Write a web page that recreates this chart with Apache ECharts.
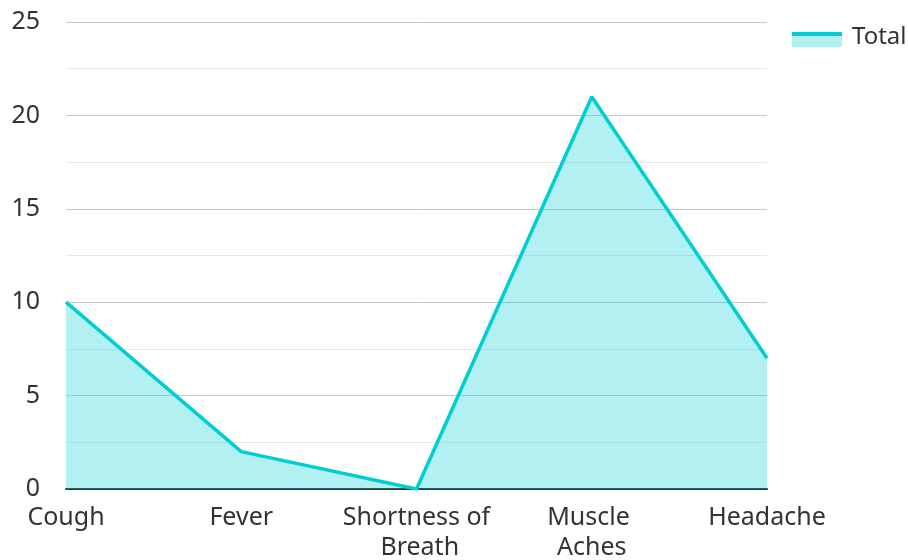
<!DOCTYPE html>
<html><head><meta charset="utf-8">
<script src="https://cdn.jsdelivr.net/npm/echarts@6/dist/echarts.min.js"></script>
<style>html,body{margin:0;padding:0;background:#fff}#c{width:908px;height:560px}</style>
</head><body><div id="c"></div>
<script>
const categories = ['Cough', 'Fever', 'Shortness of Breath', 'Muscle Aches', 'Headache'];
const totalValues = [10, 2, 0, 21, 7];
const seriesName = 'Total';

const FONT = '"Noto Sans", sans-serif';
const chart = echarts.init(document.getElementById('c'), null, {renderer: 'canvas'});
chart.setOption({
  animation: false,
  textStyle: {fontFamily: FONT},
  grid: {left: 66, right: 141, top: 22, bottom: 71, containLabel: false, outerBoundsMode: 'none'},
  legend: {
    left: 792, top: 20, icon: 'rect', itemWidth: 50, itemHeight: 15, itemGap: 12,
    itemStyle: {color: 'rgba(0,0,0,0)'},
    textStyle: {fontSize: 24, color: '#333', fontFamily: FONT},
    data: [seriesName]
  },
  graphic: [
    {type: 'rect', left: 792, top: 36, shape: {width: 50, height: 11}, style: {fill: 'rgb(178,240,241)'}, silent: true},
    {type: 'rect', left: 792, top: 32, shape: {width: 50, height: 4}, style: {fill: '#00CED1'}, silent: true}
  ],
  xAxis: {
    type: 'category', data: categories, boundaryGap: false,
    axisLine: {lineStyle: {color: '#333', width: 2}},
    axisTick: {show: false},
    axisLabel: {fontSize: 25, color: '#333', margin: 14, width: 152, overflow: 'break', lineHeight: 30, interval: 0}
  },
  yAxis: {
    type: 'value', min: 0, max: 25, interval: 5,
    axisLine: {show: false}, axisTick: {show: false},
    axisLabel: {fontSize: 25, color: '#333', margin: 26},
    splitLine: {lineStyle: {color: '#c8c8c8', width: 1}},
    minorTick: {show: false, splitNumber: 2},
    minorSplitLine: {show: true, lineStyle: {color: '#e8e8e8', width: 1}}
  },
  series: [{
    name: seriesName, type: 'line', data: totalValues,
    symbol: 'none', showSymbol: false,
    lineStyle: {color: '#00CED1', width: 3.5},
    itemStyle: {color: '#00CED1'},
    areaStyle: {color: '#00CED1', opacity: 0.3}
  }]
});
</script></body></html>
